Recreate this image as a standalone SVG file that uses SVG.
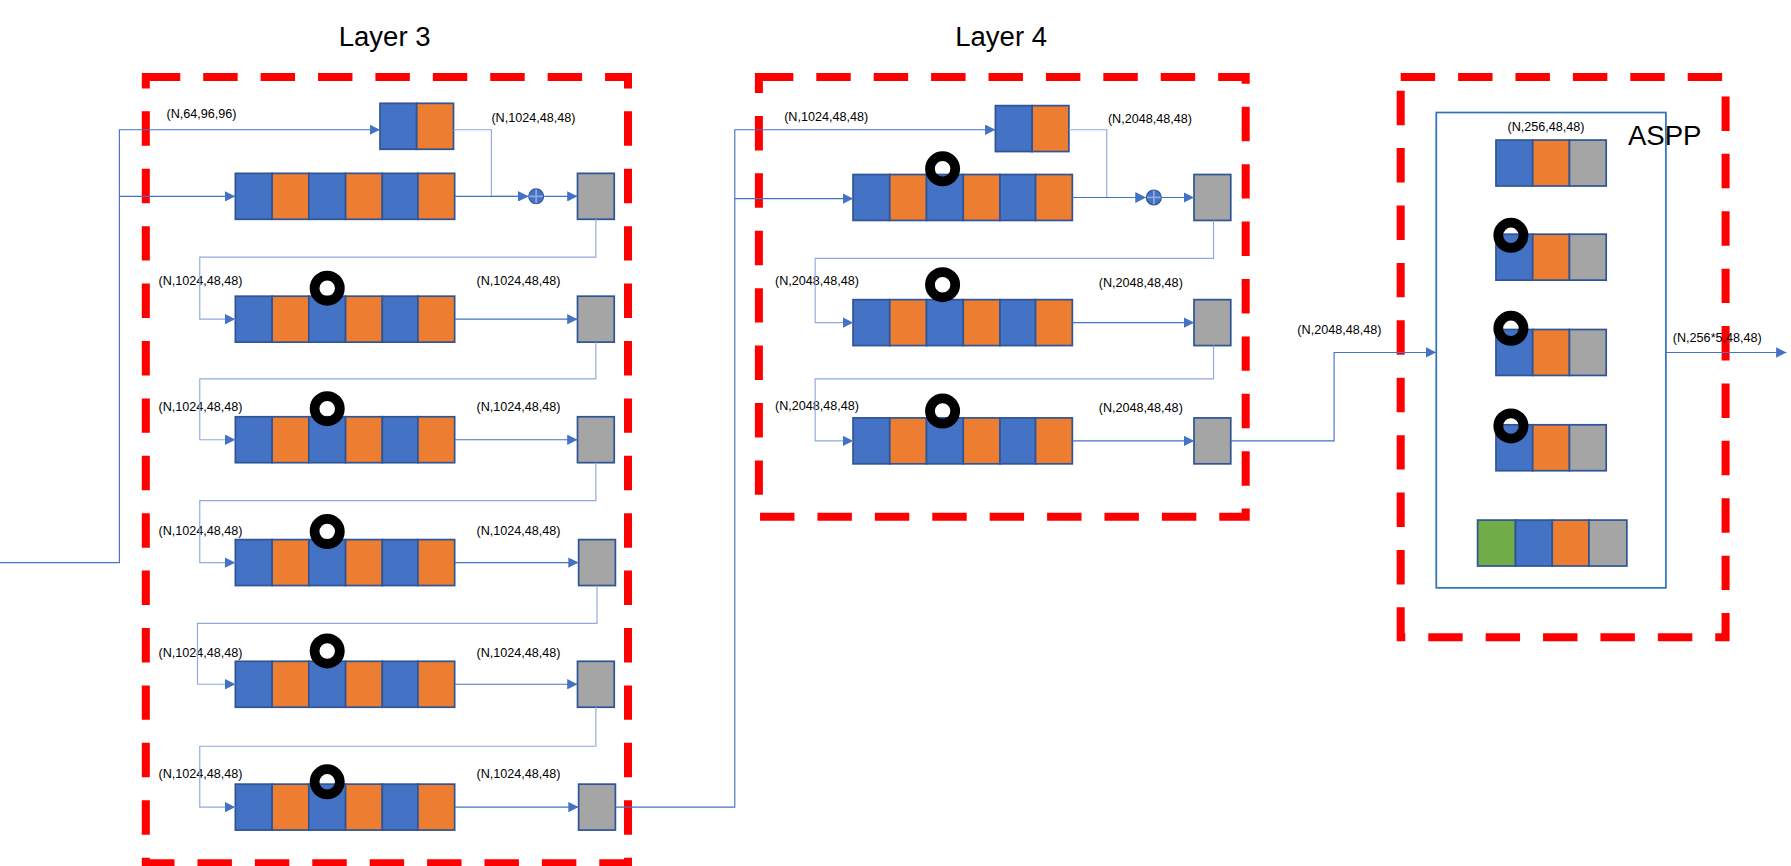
<svg xmlns="http://www.w3.org/2000/svg" width="1791" height="866" viewBox="0 0 1791 866">
<defs>
<marker id="ar" viewBox="0 0 10 10" refX="10" refY="5" markerWidth="9" markerHeight="9" markerUnits="userSpaceOnUse" orient="auto"><path d="M0,0L10,5L0,10z" fill="#4472C4"/></marker>
<g id="row6"><rect x="0" y="0" width="32" height="40" class="b"/><rect x="32" y="0" width="32" height="40" class="o"/><rect x="64" y="0" width="32" height="40" class="b"/><rect x="96" y="0" width="32" height="40" class="o"/><rect x="128" y="0" width="31" height="40" class="b"/><rect x="159" y="0" width="32" height="40" class="o"/></g>
<g id="row2"><rect x="0" y="0" width="32" height="40" class="b"/><rect x="32" y="0" width="32" height="40" class="o"/></g>
<g id="row3"><rect x="0" y="0" width="32" height="40" class="b"/><rect x="32" y="0" width="32" height="40" class="o"/><rect x="64" y="0" width="32" height="40" class="g"/></g>
</defs>
<style>
.b{fill:#4472C4;stroke:#2F5597;stroke-width:1.5}
.o{fill:#ED7D31;stroke:#2F5597;stroke-width:1.5}
.g{fill:#A5A5A5;stroke:#2F5597;stroke-width:1.5}
.gr{fill:#70AD47;stroke:#2F5597;stroke-width:1.5}
.dash{fill:none;stroke:#FF0000;stroke-width:7;stroke-dasharray:30 20}
.c{fill:none;stroke:#4472C4;stroke-width:1}
.cl{fill:none;stroke:#8FAADC;stroke-width:1}
.ring{fill:none;stroke:#000;stroke-width:8.5}
.t{font-family:"Liberation Sans",Arial,sans-serif;font-size:11px;fill:#000}
.h{font-family:"Liberation Sans",Arial,sans-serif;font-size:24px;fill:#000}
</style>
<rect width="1791" height="866" fill="#fff"/>
<g transform="scale(1.1481)">
<g id="layer3">
<rect x="127" y="67" width="420" height="685" class="dash"/>
<text x="335" y="40" class="h" text-anchor="middle">Layer 3</text>
<use href="#row2" x="331" y="90"/>
<use href="#row6" x="205" y="151"/>
<rect x="503" y="151" width="32" height="40" class="g"/>
<circle cx="467" cy="171" r="6.5" fill="#4472C4" stroke="#2F5597"/><path d="M461,171h12M467,165v12" stroke="#8FAADC" stroke-width="1.5"/>
<text x="145" y="103" class="t">(N,64,96,96)</text>
<text x="428" y="106" class="t">(N,1024,48,48)</text>
<use href="#row6" x="205" y="258"/><rect x="503" y="258" width="32" height="40" class="g"/><circle cx="285" cy="251" r="11" class="ring"/>
<use href="#row6" x="205" y="363"/><rect x="503" y="363" width="32" height="40" class="g"/><circle cx="285" cy="356" r="11" class="ring"/>
<use href="#row6" x="205" y="470"/><rect x="504" y="470" width="32" height="40" class="g"/><circle cx="285" cy="463" r="11" class="ring"/>
<use href="#row6" x="205" y="576"/><rect x="503" y="576" width="32" height="40" class="g"/><circle cx="285" cy="567" r="11" class="ring"/>
<use href="#row6" x="205" y="683"/><rect x="504" y="683" width="32" height="40" class="g"/><circle cx="285" cy="681" r="11" class="ring"/>
<text x="138" y="248" class="t">(N,1024,48,48)</text><text x="415" y="248" class="t">(N,1024,48,48)</text>
<text x="138" y="358" class="t">(N,1024,48,48)</text><text x="415" y="358" class="t">(N,1024,48,48)</text>
<text x="138" y="466" class="t">(N,1024,48,48)</text><text x="415" y="466" class="t">(N,1024,48,48)</text>
<text x="138" y="572" class="t">(N,1024,48,48)</text><text x="415" y="572" class="t">(N,1024,48,48)</text>
<text x="138" y="678" class="t">(N,1024,48,48)</text><text x="415" y="678" class="t">(N,1024,48,48)</text>
</g>
<g id="layer4">
<rect x="661" y="67" width="424" height="383" class="dash"/>
<text x="872" y="40" class="h" text-anchor="middle">Layer 4</text>
<use href="#row2" x="867" y="92"/>
<use href="#row6" x="743" y="152"/><rect x="1040" y="152" width="32" height="40" class="g"/><circle cx="821" cy="147" r="11" class="ring"/>
<circle cx="1005" cy="172" r="6.5" fill="#4472C4" stroke="#2F5597"/><path d="M999,172h12M1005,166v12" stroke="#8FAADC" stroke-width="1.5"/>
<use href="#row6" x="743" y="261"/><rect x="1040" y="261" width="32" height="40" class="g"/><circle cx="821" cy="248" r="11" class="ring"/>
<use href="#row6" x="743" y="364"/><rect x="1040" y="364" width="32" height="40" class="g"/><circle cx="821" cy="358" r="11" class="ring"/>
<text x="683" y="105" class="t">(N,1024,48,48)</text><text x="965" y="107" class="t">(N,2048,48,48)</text>
<text x="675" y="248" class="t">(N,2048,48,48)</text><text x="957" y="250" class="t">(N,2048,48,48)</text>
<text x="675" y="357" class="t">(N,2048,48,48)</text><text x="957" y="359" class="t">(N,2048,48,48)</text>
</g>
<g id="aspp">
<rect x="1220" y="67" width="283" height="488" class="dash"/>
<rect x="1251" y="98" width="200" height="414" fill="none" stroke="#2E75B6" stroke-width="1.5"/>
<text x="1418" y="126" class="h">ASPP</text>
<text x="1313" y="114" class="t">(N,256,48,48)</text>
<use href="#row3" x="1303" y="122"/>
<use href="#row3" x="1303" y="204"/><circle cx="1316" cy="205" r="11" class="ring"/>
<use href="#row3" x="1303" y="287"/><circle cx="1316" cy="286" r="11" class="ring"/>
<use href="#row3" x="1303" y="370"/><circle cx="1316" cy="371" r="11" class="ring"/>
<rect x="1287" y="453" width="33" height="40" class="gr"/><rect x="1320" y="453" width="32" height="40" class="b"/><rect x="1352" y="453" width="32" height="40" class="o"/><rect x="1384" y="453" width="33" height="40" class="g"/>
<text x="1130" y="291" class="t">(N,2048,48,48)</text>
<text x="1457" y="298" class="t">(N,256*5,48,48)</text>
</g>
<g id="connectors">
<path d="M0,490H104V113H331" class="c" marker-end="url(#ar)"/>
<path d="M104,171H205" class="c" marker-end="url(#ar)"/>
<path d="M395,113H428V171H460" class="cl" marker-end="url(#ar)"/>
<path d="M396,171H460" class="c" marker-end="url(#ar)"/>
<path d="M474,171H503" class="c" marker-end="url(#ar)"/>
<path d="M519,191V224H174V278H205" class="cl" marker-end="url(#ar)"/>
<path d="M519,298V330H174V383H205" class="cl" marker-end="url(#ar)"/>
<path d="M519,403V436H174V490H205" class="cl" marker-end="url(#ar)"/>
<path d="M520,510V543H172V596H205" class="cl" marker-end="url(#ar)"/>
<path d="M519,616V650H174V703H205" class="cl" marker-end="url(#ar)"/>
<path d="M396,278H503" class="c" marker-end="url(#ar)"/>
<path d="M396,383H503" class="c" marker-end="url(#ar)"/>
<path d="M396,490H504" class="c" marker-end="url(#ar)"/>
<path d="M396,596H503" class="c" marker-end="url(#ar)"/>
<path d="M396,703H504" class="c" marker-end="url(#ar)"/>
<path d="M536,703H640V113H867" class="c" marker-end="url(#ar)"/>
<path d="M640,173H743" class="c" marker-end="url(#ar)"/>
<path d="M931,113H964V172H998" class="cl" marker-end="url(#ar)"/>
<path d="M934,172H998" class="c" marker-end="url(#ar)"/>
<path d="M1012,172H1040" class="c" marker-end="url(#ar)"/>
<path d="M1057,192V225H710V281H743" class="cl" marker-end="url(#ar)"/>
<path d="M1057,301V330H710V384H743" class="cl" marker-end="url(#ar)"/>
<path d="M934,281H1040" class="c" marker-end="url(#ar)"/>
<path d="M934,384H1040" class="c" marker-end="url(#ar)"/>
<path d="M1072,384H1162V307H1251" class="c" marker-end="url(#ar)"/>
<path d="M1451,307H1556" class="c" marker-end="url(#ar)"/>
</g>
</g>
</svg>
